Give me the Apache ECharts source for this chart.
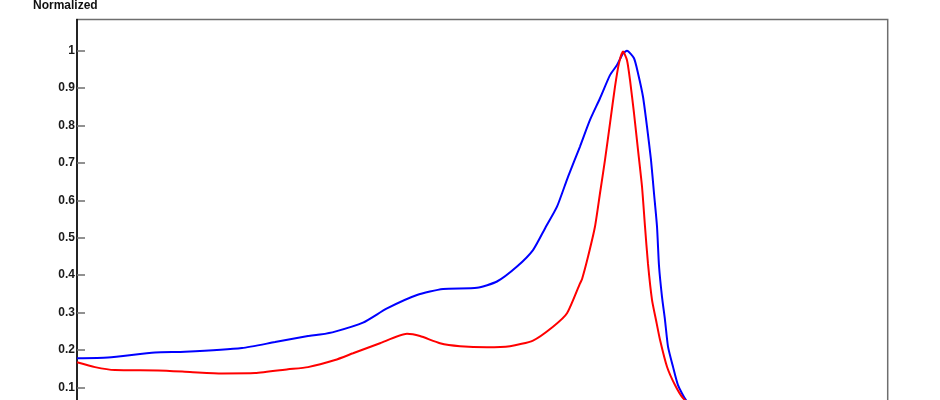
<!DOCTYPE html>
<html>
<head>
<meta charset="utf-8">
<script src="https://cdn.jsdelivr.net/npm/echarts@6/dist/echarts.min.js"></script>
<style>
html,body{margin:0;padding:0;background:#fff;overflow:hidden;}
#c{width:940px;height:430px;}
</style>
</head>
<body>
<div id="c"></div>
<script>
const titleText = "Normalized";
const yTickLabels = ["0.1","0.2","0.3","0.4","0.5","0.6","0.7","0.8","0.9","1"];

const blueX = [0,31,78,108,165,198,231,243,258,286,310,340,366,400,420,440,456,468,480,491,503,513,523,533,540,546,550,557,561,566,570,574,577,580,582,585,588,591,596,601,609,623,653,703,810];
const blueY = [0.178,0.180,0.193,0.195,0.205,0.221,0.237,0.241,0.249,0.273,0.311,0.347,0.363,0.366,0.383,0.423,0.467,0.525,0.583,0.663,0.744,0.815,0.873,0.935,0.962,0.993,1.0,0.98,0.94,0.877,0.797,0.708,0.619,0.530,0.425,0.342,0.280,0.209,0.155,0.106,0.066,0.035,0.015,0.008,0.005];

const redX = [0,18,38,81,113,145,178,211,231,258,276,303,330,343,363,383,410,433,456,476,490,503,505,511,518,523,528,533,538,542,546,550,553,557,561,565,568,571,575,579,583,590,598,606,623,653,703,810];
const redY = [0.167,0.154,0.146,0.145,0.141,0.137,0.138,0.148,0.154,0.173,0.191,0.218,0.243,0.237,0.218,0.210,0.207,0.210,0.225,0.262,0.298,0.378,0.389,0.449,0.530,0.619,0.708,0.806,0.904,0.967,0.998,0.975,0.922,0.833,0.735,0.637,0.530,0.43,0.334,0.280,0.227,0.155,0.106,0.071,0.03,0.012,0.006,0.004];

const blueData = blueX.map((x,i)=>[x,blueY[i]]);
const redData = redX.map((x,i)=>[x,redY[i]]);

const chart = echarts.init(document.getElementById('c'), null, {renderer:'canvas'});
chart.setOption({
  animation:false,
  backgroundColor:'#fff',
  title:{
    text:titleText,
    left:33, top:0, padding:0,
    textStyle:{fontFamily:'Liberation Sans, Arial, sans-serif',fontSize:12,fontWeight:'bold',color:'#111'}
  },
  grid:{
    left:77, right:52.3, top:19.5, bottom:5.3,
    show:true, borderColor:'#6e6e6e', borderWidth:1.5, backgroundColor:'transparent'
  },
  xAxis:{
    type:'value', min:0, max:810.7,
    axisLine:{show:false}, axisTick:{show:false}, axisLabel:{show:false}, splitLine:{show:false}
  },
  yAxis:{
    type:'value', min:0, max:1.0837, interval:0.1,
    axisLine:{show:true,lineStyle:{color:'#000',width:1.5}},
    axisTick:{show:true,inside:true,length:8,lineStyle:{color:'#6e6e6e',width:1.5}},
    axisLabel:{
      margin:2, showMaxLabel:false,
      fontFamily:'Liberation Sans, Arial, sans-serif', fontSize:12, fontWeight:'bold', color:'#1a1a1a',
      formatter:function(v){
        const i = Math.round(v*10)-1;
        if (Math.abs(v*10 - Math.round(v*10))>1e-6) return '';
        return (i>=0 && i<yTickLabels.length) ? yTickLabels[i] : '';
      }
    },
    splitLine:{show:false}
  },
  series:[
    {type:'line', data:blueData, showSymbol:false, smooth:0.2, lineStyle:{color:'#0000ff',width:2}, itemStyle:{color:'#0000ff'}},
    {type:'line', data:redData, showSymbol:false, smooth:0.2, lineStyle:{color:'#ff0000',width:2}, itemStyle:{color:'#ff0000'}}
  ]
});
</script>
</body>
</html>
